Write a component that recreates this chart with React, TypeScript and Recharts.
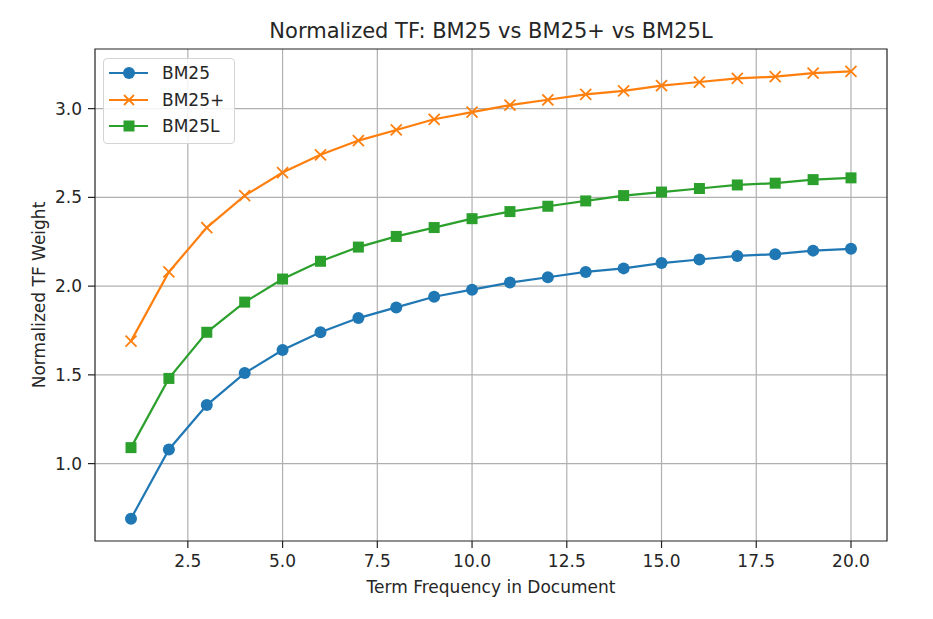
import {
  LineChart,
  Line,
  XAxis,
  YAxis,
  CartesianGrid,
  Label,
  ReferenceArea,
} from 'recharts'

const termFreq = [1, 2, 3, 4, 5, 6, 7, 8, 9, 10, 11, 12, 13, 14, 15, 16, 17, 18, 19, 20]
const bm25 = [0.69, 1.08, 1.33, 1.51, 1.64, 1.74, 1.82, 1.88, 1.94, 1.98, 2.02, 2.05, 2.08, 2.1, 2.13, 2.15, 2.17, 2.18, 2.2, 2.21]
const bm25Plus = [1.69, 2.08, 2.33, 2.51, 2.64, 2.74, 2.82, 2.88, 2.94, 2.98, 3.02, 3.05, 3.08, 3.1, 3.13, 3.15, 3.17, 3.18, 3.2, 3.21]
const bm25L = [1.09, 1.48, 1.74, 1.91, 2.04, 2.14, 2.22, 2.28, 2.33, 2.38, 2.42, 2.45, 2.48, 2.51, 2.53, 2.55, 2.57, 2.58, 2.6, 2.61]
const xTicks = [2.5, 5, 7.5, 10, 12.5, 15, 17.5, 20]
const yTicks = [1.0, 1.5, 2.0, 2.5, 3.0]

const X_DOMAIN: [number, number] = [0.05, 20.95]
const Y_DOMAIN: [number, number] = [0.564, 3.336]

const BLUE = '#1f77b4'
const ORANGE = '#ff7f0e'
const GREEN = '#2ca02c'
const FONT = '"DejaVu Sans", sans-serif'
const TEXT = '#262626'

const data = termFreq.map((tf, i) => ({
  tf,
  bm25: bm25[i],
  bm25plus: bm25Plus[i],
  bm25l: bm25L[i],
}))

type DotProps = { cx?: number; cy?: number; index?: number }

function CircleDot({ cx, cy, index }: DotProps) {
  if (cx == null || cy == null) return null
  return <circle key={index} cx={cx} cy={cy} r={6} fill={BLUE} />
}

function CrossDot({ cx, cy, index }: DotProps) {
  if (cx == null || cy == null) return null
  const s = 5.5
  return (
    <g key={index} stroke={ORANGE} strokeWidth={1.8}>
      <line x1={cx - s} y1={cy - s} x2={cx + s} y2={cy + s} />
      <line x1={cx - s} y1={cy + s} x2={cx + s} y2={cy - s} />
    </g>
  )
}

function SquareDot({ cx, cy, index }: DotProps) {
  if (cx == null || cy == null) return null
  return <rect key={index} x={cx - 5.5} y={cy - 5.5} width={11} height={11} fill={GREEN} />
}

const legendItems = [
  { name: 'BM25', color: BLUE, marker: 'circle' },
  { name: 'BM25+', color: ORANGE, marker: 'cross' },
  { name: 'BM25L', color: GREEN, marker: 'square' },
]

function LegendBox() {
  return (
    <div
      style={{
        position: 'absolute',
        left: 103,
        top: 58,
        width: 132,
        height: 86,
        border: '1px solid #d5d5d5',
        borderRadius: 4,
        background: 'rgba(255,255,255,0.85)',
        padding: '1px 0 0 5px',
        boxSizing: 'border-box',
        textAlign: 'left',
      }}
    >
      {legendItems.map((it) => (
        <div key={it.name} style={{ display: 'flex', alignItems: 'center', height: 26.5 }}>
          <svg width={40} height={20} style={{ flex: 'none' }}>
            <line x1={0} y1={10} x2={39} y2={10} stroke={it.color} strokeWidth={2.2} />
            {it.marker === 'circle' && <circle cx={20} cy={10} r={6} fill={it.color} />}
            {it.marker === 'square' && <rect x={14.5} y={4.5} width={11} height={11} fill={it.color} />}
            {it.marker === 'cross' && (
              <g stroke={it.color} strokeWidth={1.8}>
                <line x1={15} y1={5} x2={25} y2={15} />
                <line x1={15} y1={15} x2={25} y2={5} />
              </g>
            )}
          </svg>
          <span style={{ fontFamily: FONT, fontSize: 17, color: TEXT, marginLeft: 13, lineHeight: '20px' }}>
            {it.name}
          </span>
        </div>
      ))}
    </div>
  )
}

export default function App() {
  return (
    <div style={{ position: 'absolute', left: 0, top: 0, width: 933, height: 619, background: '#fff' }}>
      <LineChart width={933} height={619} data={data} margin={{ top: 49, right: 46, bottom: 0, left: 0 }}>
        <CartesianGrid stroke="#b0b0b0" strokeWidth={1.2} horizontalValues={yTicks} verticalValues={xTicks} />
        <XAxis
          dataKey="tf"
          type="number"
          domain={X_DOMAIN}
          ticks={xTicks}
          allowDataOverflow
          height={78}
          axisLine={false}
          tickLine={{ stroke: '#222', strokeWidth: 1.2 }}
          tickSize={7}
          tickMargin={7}
          tick={{ fill: TEXT, fontSize: 17, fontFamily: FONT }}
          tickFormatter={(v: number) => v.toFixed(1)}
        >
          <Label
            content={({ viewBox }: any) => (
              <text
                x={viewBox.x + viewBox.width / 2}
                y={593}
                textAnchor="middle"
                fill={TEXT}
                fontSize={17}
                fontFamily={FONT}
              >
                Term Frequency in Document
              </text>
            )}
          />
        </XAxis>
        <YAxis
          type="number"
          domain={Y_DOMAIN}
          ticks={yTicks}
          allowDataOverflow
          width={95}
          axisLine={false}
          tickLine={{ stroke: '#222', strokeWidth: 1.2 }}
          tickSize={7}
          tickMargin={6}
          tick={{ fill: TEXT, fontSize: 17, fontFamily: FONT }}
          tickFormatter={(v: number) => v.toFixed(1)}
        >
          <Label
            content={({ viewBox }: any) => {
              const cy = viewBox.y + viewBox.height / 2
              return (
                <text
                  x={45}
                  y={cy}
                  transform={`rotate(-90 45 ${cy})`}
                  textAnchor="middle"
                  fill={TEXT}
                  fontSize={17}
                  fontFamily={FONT}
                >
                  Normalized TF Weight
                </text>
              )
            }}
          />
        </YAxis>
        <Line
          type="linear"
          dataKey="bm25"
          name="BM25"
          stroke={BLUE}
          strokeWidth={2.2}
          dot={CircleDot}
          activeDot={false}
          isAnimationActive={false}
        />
        <Line
          type="linear"
          dataKey="bm25plus"
          name="BM25+"
          stroke={ORANGE}
          strokeWidth={2.2}
          dot={CrossDot}
          activeDot={false}
          isAnimationActive={false}
        />
        <Line
          type="linear"
          dataKey="bm25l"
          name="BM25L"
          stroke={GREEN}
          strokeWidth={2.2}
          dot={SquareDot}
          activeDot={false}
          isAnimationActive={false}
        />
        <ReferenceArea
          x1={X_DOMAIN[0]}
          x2={X_DOMAIN[1]}
          y1={Y_DOMAIN[0]}
          y2={Y_DOMAIN[1]}
          fill="none"
          stroke="#222"
          strokeWidth={1.2}
          ifOverflow="visible"
        />
      </LineChart>
      <svg width={933} height={50} style={{ position: 'absolute', left: 0, top: 0, pointerEvents: 'none' }}>
        <text x={491} y={38} textAnchor="middle" fill={TEXT} fontSize={21} fontFamily={FONT}>
          Normalized TF: BM25 vs BM25+ vs BM25L
        </text>
      </svg>
      <LegendBox />
    </div>
  )
}
